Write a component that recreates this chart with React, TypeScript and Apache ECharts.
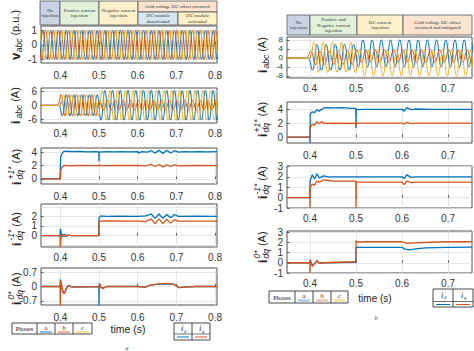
import React, { useEffect, useRef } from 'react';
import * as echarts from 'echarts';

const BLUE = '#0072BD';
const ORANGE = '#D95319';
const YELLOW = '#EDB120';

// ---------- axis ticks ----------
const xTicksA = [0.4, 0.5, 0.6, 0.7, 0.8];
const xTicksB = [0.4, 0.5, 0.6, 0.7];
const yTicksV = [-1, 0, 1];
const yTicksIabcA = [-6, 0, 6];
const yTicksPos = [0, 2, 4];
const yTicksNegA = [-1, 0, 1, 2, 3];
const yTicksZeroA = [-0.7, 0, 0.7];
const yTicksIabcB = [-8, -4, 0, 4, 8];
const yTicksNegB = [-1, 0, 1, 2, 3];
const yTicksZeroB = [-1, 0, 1, 2, 3];

// ---------- 50 Hz waveforms: successive peak / trough values (one every half period) ----------
const halfPeriod = 0.01;
const waveStart = 0.335;
const phaseShift = [0, 0.02 / 3, 0.04 / 3];

const vA = [1, -1, 1, -1, 1, -1, 1, -1, 1, -1, 1, -1, 1, -1, 1, -1, 1, -1, 1, -1, 1, -1, 1, -1, 1, -1, 1, -1, 1, -1, 1, -1, 1, -1, 1, -1, 1, -1, 1, -1, 1, -1, 1, -1, 1, -1, 1, -1, 1];
const vB = [1, -1, 1, -1, 1, -1, 1, -1, 1, -1, 1, -1, 1, -1, 1, -1, 1, -1, 1, -1, 1, -1, 1, -1, 1, -1, 1, -1, 1, -1, 1, -1, 1, -1, 1, -1, 1, -1, 1, -1, 1, -1, 1, -1, 1, -1, 1, -1, 1];
const vC = [1, -1, 1, -1, 1, -1, 1, -1, 1, -1, 1, -1, 1, -1, 1, -1, 1, -1, 1, -1, 1, -1, 1, -1, 1, -1, 1, -1, 1, -1, 1, -1, 1, -1, 1, -1, 1, -1, 1, -1, 1, -1, 1, -1, 1, -1, 1, -1, 1];

const iaL = [0, 0, 0, 0, 0, 0, 0, -4.5, 4.5, -4.5,
  4.5, -4.5, 4.5, -4.5, 4.5, -4.5, 4.5, -6.3, 6.3, -6.3,
  6.3, -6.3, 6.3, -6.3, 6.3, -6.3, 6.3, -6.3, 6.3, -6.3,
  6.3, -6.3, 6.3, -6.3, 6.3, -6.3, 6.3, -6.3, 6.3, -6.3,
  6.3, -6.3, 6.3, -6.3, 6.3, -6.3, 6.3, -6.3, 6.3];
const ibL = [0, 0, 0, 0, 0, 0, 4.5, -4.5, 4.5, -4.5,
  4.5, -4.5, 4.5, -4.5, 4.5, -4.5, 2, -2, 2, -2,
  2, -2, 2, -2, 2, -2, 2, -2, 2, -2,
  2, -2, 2, -2, 2, -2, 2, -2, 2, -2,
  2, -2, 2, -2, 2, -2, 2, -2, 2];
const icL = [0, 0, 0, 0, 0, 0, 4.5, -4.5, 4.5, -4.5,
  4.5, -4.5, 4.5, -4.5, 4.5, -4.5, 6.3, -6.3, 6.3, -6.3,
  6.3, -6.3, 6.3, -6.3, 6.3, -6.3, 6.3, -6.3, 6.3, -6.3,
  6.3, -6.3, 6.3, -6.3, 6.3, -6.3, 6.3, -6.3, 6.3, -6.3,
  6.3, -6.3, 6.3, -6.3, 6.3, -6.3, 6.3, -6.3, 6.3];

const iaR = [0, 0, 0, 0, 0, 0, 0, -5.5, 6, -5.5,
  6, -5.5, 6, -5.5, 6, -5.5, 6, -4, 8, -4,
  8, -4, 8, -4, 8, -4, 8, -4, 8, -4,
  8, -4, 8, -4, 8, -4, 8, -4, 8, -4,
  8, -4, 8];
const ibR = [0, 0, 0, 0, 0, 0, 3, -3, 3, -3,
  3, -3, 3, -3, 3, -3, 3.5, -2, 3.5, -2,
  3.5, -2, 3.5, -2, 3.5, -2, 3.5, -2, 3.5, -2,
  3.5, -2, 3.5, -2, 3.5, -2, 3.5, -2, 3.5, -2,
  3.5, -2, 3.5];
const icR = [0, 0, 0, 0, 0, 0, 7, -6.5, 7, -6.5,
  7, -6.5, 7, -6.5, 7, -6.5, 3.5, -8, 3.5, -8,
  3.5, -8, 3.5, -8, 3.5, -8, 3.5, -8, 3.5, -8,
  3.5, -8, 3.5, -8, 3.5, -8, 3.5, -8, 3.5, -8,
  3.5, -8, 3.5];

// ---------- dq components [time, value] ----------
const posDL = [[0.35, 0], [0.399, 0], [0.4, 0.05], [0.401, 3.3], [0.404, 3.7], [0.408, 4.05], [0.415, 4.12], [0.43, 4.05], [0.45, 4.08], [0.47, 4.02], [0.49, 4.06], [0.4995, 4.03], [0.5, 2.6], [0.5005, 4.0], [0.52, 4.05], [0.54, 4.02], [0.56, 4.06], [0.58, 4.03], [0.6, 4.05], [0.603, 3.85], [0.61, 4.05], [0.625, 4.0], [0.635, 4.2], [0.645, 3.85], [0.655, 4.25], [0.665, 3.8], [0.675, 4.25], [0.685, 3.85], [0.695, 4.2], [0.705, 4.0], [0.72, 4.05], [0.74, 4.02], [0.76, 4.06], [0.78, 4.03], [0.805, 4.05]];
const posQL = [[0.35, 0], [0.4, 0], [0.401, 1.2], [0.404, 1.75], [0.41, 2.02], [0.42, 1.95], [0.45, 2.0], [0.4995, 1.98], [0.5, 2.1], [0.505, 1.98], [0.55, 2.0], [0.6, 2.02], [0.62, 1.95], [0.635, 2.15], [0.645, 1.85], [0.655, 2.15], [0.665, 1.8], [0.675, 2.1], [0.685, 1.85], [0.695, 2.1], [0.705, 1.95], [0.75, 2.0], [0.805, 1.98]];
const negDL = [[0.35, 0], [0.399, 0], [0.4, 0.7], [0.402, 0.3], [0.405, -0.1], [0.41, 0.15], [0.415, -0.1], [0.42, 0.05], [0.43, 0], [0.4995, 0], [0.5, 1.85], [0.505, 2.05], [0.52, 2.0], [0.55, 2.03], [0.6, 2.0], [0.62, 2.05], [0.635, 2.25], [0.645, 1.8], [0.655, 2.25], [0.665, 1.8], [0.675, 2.2], [0.685, 1.85], [0.695, 2.2], [0.705, 2.0], [0.75, 2.02], [0.805, 2.0]];
const negQL = [[0.35, 0], [0.399, 0], [0.4, -1.2], [0.402, -0.3], [0.405, 0.15], [0.41, -0.1], [0.415, 0.05], [0.43, 0], [0.4995, 0], [0.5, 1.5], [0.52, 1.52], [0.6, 1.5], [0.62, 1.45], [0.635, 1.75], [0.645, 1.25], [0.655, 1.75], [0.665, 1.25], [0.675, 1.7], [0.685, 1.3], [0.695, 1.65], [0.705, 1.5], [0.805, 1.5]];
const zeroDL = [[0.35, 0], [0.399, 0], [0.4, 0.35], [0.402, 0.1], [0.406, -0.25], [0.41, -0.35], [0.415, -0.1], [0.42, 0.05], [0.43, -0.02], [0.4995, 0], [0.5, -0.95], [0.5005, 0.15], [0.505, -0.05], [0.51, -0.08], [0.52, 0], [0.6, 0], [0.62, -0.03], [0.63, 0.05], [0.65, 0.1], [0.67, 0.13], [0.69, 0.12], [0.7, 0.05], [0.705, -0.05], [0.72, -0.03], [0.75, 0], [0.805, 0]];
const zeroQL = [[0.35, 0], [0.399, 0], [0.4, -0.95], [0.401, 0.3], [0.403, 0.1], [0.406, -0.2], [0.41, -0.35], [0.415, -0.15], [0.42, 0.05], [0.43, -0.03], [0.5, 0], [0.502, 0.12], [0.505, -0.05], [0.51, -0.1], [0.52, 0], [0.6, 0], [0.62, -0.03], [0.63, 0.05], [0.65, 0.12], [0.67, 0.15], [0.69, 0.13], [0.7, 0.05], [0.705, -0.05], [0.72, -0.03], [0.75, 0], [0.805, 0]];

const posDR = [[0.35, 0], [0.3995, 0], [0.4, -0.85], [0.4005, 3.3], [0.405, 3.6], [0.41, 3.5], [0.415, 3.9], [0.42, 3.7], [0.43, 4.15], [0.44, 4.2], [0.45, 4.15], [0.47, 4.2], [0.49, 4.1], [0.4995, 4.1], [0.5, 1.3], [0.5005, 3.9], [0.52, 3.95], [0.55, 3.95], [0.58, 3.95], [0.6, 3.95], [0.605, 3.7], [0.61, 4.2], [0.62, 3.9], [0.63, 4.0], [0.66, 3.95], [0.7, 3.95], [0.752, 3.95]];
const posQR = [[0.35, 0], [0.3995, 0], [0.4, 1.4], [0.405, 1.8], [0.41, 1.7], [0.415, 2.2], [0.42, 1.9], [0.425, 2.2], [0.43, 1.95], [0.45, 2.0], [0.49, 1.95], [0.4995, 2.0], [0.5, 1.5], [0.5005, 2.0], [0.55, 2.0], [0.6, 2.0], [0.605, 1.85], [0.61, 2.1], [0.62, 1.9], [0.63, 2.0], [0.7, 2.0], [0.752, 2.0]];
const negDR = [[0.35, 0], [0.3995, 0], [0.4, 1.6], [0.405, 2.2], [0.41, 1.8], [0.415, 2.3], [0.42, 1.9], [0.43, 2.1], [0.44, 2.0], [0.5, 2.0], [0.55, 2.0], [0.6, 2.0], [0.605, 1.85], [0.61, 2.2], [0.62, 1.95], [0.63, 2.0], [0.752, 2.0]];
const negQR = [[0.35, 0], [0.3995, 0], [0.4, -1.0], [0.4005, 1.0], [0.405, 1.3], [0.41, 1.2], [0.415, 1.6], [0.42, 1.5], [0.43, 1.7], [0.45, 1.6], [0.49, 1.6], [0.4995, 1.6], [0.5, -1.0], [0.5005, 1.5], [0.55, 1.5], [0.6, 1.5], [0.605, 1.25], [0.61, 1.6], [0.62, 1.45], [0.63, 1.5], [0.752, 1.5]];
const zeroDR = [[0.35, 0], [0.3995, 0], [0.4, 0.3], [0.405, -0.3], [0.41, -0.1], [0.415, 0.2], [0.42, -0.05], [0.43, 0], [0.4995, 0.05], [0.5, 1.5], [0.52, 1.5], [0.6, 1.5], [0.605, 1.35], [0.615, 1.25], [0.63, 1.35], [0.65, 1.45], [0.7, 1.5], [0.752, 1.52]];
const zeroQR = [[0.35, 0], [0.3995, 0], [0.4, -1.0], [0.4005, 0.3], [0.405, -0.35], [0.41, -0.1], [0.415, 0.2], [0.42, -0.05], [0.43, 0], [0.4995, 0.1], [0.5, 2.15], [0.505, 2.0], [0.52, 2.05], [0.6, 2.05], [0.61, 1.9], [0.63, 1.95], [0.66, 2.0], [0.7, 2.05], [0.752, 2.05]];

// ---------- headers ----------
const headerA = [
  { x: 40, y: 1, w: 20, h: 24, fill: '#c9d3e3', text: 'No\ninjection', italic: false },
  { x: 60, y: 1, w: 39, h: 24, fill: '#e1f1da', text: 'Positive current\ninjection', italic: false },
  { x: 99, y: 1, w: 39, h: 24, fill: '#fcefc9', text: 'Negative current\ninjection', italic: false },
  { x: 138, y: 1, w: 79, h: 11, fill: '#fbe3d0', text: 'Grid voltage DC offset occurred', italic: false },
  { x: 138, y: 12, w: 40, h: 13, fill: '#d4e6f2', text: 'DC module\ndeactivated', italic: true },
  { x: 178, y: 12, w: 39, h: 13, fill: '#fdf2c5', text: 'DC module\nactivated', italic: true },
];
const headerB = [
  { x: 287, y: 15, w: 23, h: 20, fill: '#c9d3e3', text: 'No\ninjection', italic: false },
  { x: 310, y: 15, w: 47, h: 20, fill: '#e1f1da', text: 'Positive and\nNegative current\ninjection', italic: false },
  { x: 357, y: 15, w: 46, h: 20, fill: '#fcefc9', text: 'DC current\ninjection', italic: false },
  { x: 403, y: 15, w: 69, h: 20, fill: '#fbe3d0', text: 'Grid voltage DC offset\noccurred and mitigated', italic: false },
];

const SANS = 'Liberation Sans';
const SERIF = 'Liberation Serif';

function wave(vals: number[], shift: number) {
  return vals.map((v, k) => [waveStart + shift + k * halfPeriod, v]);
}

type S = { data: number[][]; color: string; smooth?: boolean };
type P = {
  left: number; top: number; width: number; height: number;
  xMax: number; xTicks: number[]; yMin: number; yMax: number; yTicks: number[];
  xm: number; yFont: number; series: S[];
};

const plots: P[] = [
  { left: 41, top: 26, width: 176, height: 37, xMax: 0.805, xTicks: xTicksA, yMin: -1.25, yMax: 1.3, yTicks: yTicksV, xm: 7, yFont: 10,
    series: [{ data: wave(vA, phaseShift[0]), color: BLUE, smooth: true }, { data: wave(vB, phaseShift[1]), color: ORANGE, smooth: true }, { data: wave(vC, phaseShift[2]), color: YELLOW, smooth: true }] },
  { left: 41, top: 88, width: 176, height: 35, xMax: 0.805, xTicks: xTicksA, yMin: -7.5, yMax: 7.3, yTicks: yTicksIabcA, xm: 5, yFont: 10,
    series: [{ data: wave(iaL, phaseShift[0]), color: BLUE, smooth: true }, { data: wave(ibL, phaseShift[1]), color: ORANGE, smooth: true }, { data: wave(icL, phaseShift[2]), color: YELLOW, smooth: true }] },
  { left: 41, top: 148, width: 176, height: 36, xMax: 0.805, xTicks: xTicksA, yMin: -0.75, yMax: 4.6, yTicks: yTicksPos, xm: 7, yFont: 10,
    series: [{ data: posDL, color: BLUE }, { data: posQL, color: ORANGE }] },
  { left: 41, top: 204, width: 176, height: 43, xMax: 0.805, xTicks: xTicksA, yMin: -1.2, yMax: 3.3, yTicks: yTicksNegA, xm: 5, yFont: 10,
    series: [{ data: negDL, color: BLUE }, { data: negQL, color: ORANGE }] },
  { left: 41, top: 268, width: 176, height: 37, xMax: 0.805, xTicks: xTicksA, yMin: -0.9, yMax: 0.9, yTicks: yTicksZeroA, xm: 7, yFont: 10,
    series: [{ data: zeroDL, color: BLUE }, { data: zeroQL, color: ORANGE }] },
  { left: 287, top: 37, width: 185, height: 41, xMax: 0.752, xTicks: xTicksB, yMin: -9, yMax: 9.3, yTicks: yTicksIabcB, xm: 5, yFont: 8,
    series: [{ data: wave(iaR, phaseShift[0]), color: BLUE, smooth: true }, { data: wave(ibR, phaseShift[1]), color: ORANGE, smooth: true }, { data: wave(icR, phaseShift[2]), color: YELLOW, smooth: true }] },
  { left: 287, top: 102, width: 185, height: 41, xMax: 0.752, xTicks: xTicksB, yMin: -0.85, yMax: 5, yTicks: yTicksPos, xm: 7, yFont: 10,
    series: [{ data: posDR, color: BLUE }, { data: posQR, color: ORANGE }] },
  { left: 287, top: 166, width: 185, height: 42, xMax: 0.752, xTicks: xTicksB, yMin: -1, yMax: 3.05, yTicks: yTicksNegB, xm: 5, yFont: 10,
    series: [{ data: negDR, color: BLUE }, { data: negQR, color: ORANGE }] },
  { left: 287, top: 231, width: 185, height: 42, xMax: 0.752, xTicks: xTicksB, yMin: -1, yMax: 3.1, yTicks: yTicksZeroB, xm: 5, yFont: 10,
    series: [{ data: zeroDR, color: BLUE }, { data: zeroQR, color: ORANGE }] },
];

let measureCtx: CanvasRenderingContext2D | null = null;
function textW(s: string, size: number, bold = false) {
  if (!measureCtx) measureCtx = document.createElement('canvas').getContext('2d');
  if (!measureCtx) return s.length * size * 0.55;
  measureCtx.font = `${bold ? 'bold ' : ''}${size}px ${SANS}`;
  return measureCtx.measureText(s).width;
}

function yLabel(cx: number, yb: number, main: string, sub: string, sup: string, paren: string, slot: number) {
  const mainSize = 13, scr = 8.5, pSize = 11;
  const wMain = Math.max(textW(main, mainSize, true), slot);
  const wScr = Math.max(sub ? textW(sub, scr) : 0, sup ? textW(sup, scr) : 0);
  const mainX = (wMain - textW(main, mainSize, true)) / 2;
  const children: any[] = [
    { type: 'text', x: mainX, y: 0, style: { text: main, fontSize: mainSize, fontWeight: 'bold', fontFamily: SANS, fill: '#222', align: 'left', verticalAlign: 'middle' } },
  ];
  if (sub) children.push({ type: 'text', x: wMain + 0.5, y: 3.8, style: { text: sub, fontSize: scr, fontStyle: 'italic', fontFamily: SANS, fill: '#222', align: 'left', verticalAlign: 'middle' } });
  if (sup) children.push({ type: 'text', x: wMain + 0.5, y: -5.5, style: { text: sup, fontSize: scr, fontStyle: 'italic', fontFamily: SANS, fill: '#222', align: 'left', verticalAlign: 'middle' } });
  children.push({ type: 'text', x: wMain + 0.5 + wScr + 3, y: 0, style: { text: paren, fontSize: pSize, fontFamily: SANS, fill: '#222', align: 'left', verticalAlign: 'middle' } });
  return { type: 'group', x: cx, y: yb, rotation: Math.PI / 2, children };
}

function headerCells(cells: typeof headerA, fs: number) {
  const out: any[] = [];
  cells.forEach((c) => {
    out.push({ type: 'rect', shape: { x: c.x, y: c.y, width: c.w, height: c.h }, style: { fill: c.fill, stroke: '#555', lineWidth: 0.8 } });
    out.push({ type: 'text', x: c.x + c.w / 2, y: c.y + c.h / 2, style: { text: c.text, fontSize: fs, lineHeight: fs + 0.8, fontFamily: SERIF, fontStyle: c.italic ? 'italic' : 'normal', fill: '#333', align: 'center', verticalAlign: 'middle' } });
  });
  return out;
}

function phaseLegend(x0: number, y0: number, edges: number[], h: number, lineY: number, colors: string[], lw: number, opacity: number) {
  const out: any[] = [];
  out.push({ type: 'rect', shape: { x: x0, y: y0, width: edges[3] - x0, height: h }, style: { fill: '#fff', stroke: '#333', lineWidth: 0.9 } });
  out.push({ type: 'text', x: (x0 + edges[0]) / 2, y: y0 + h / 2, style: { text: 'Phases', fontSize: 6.5, fontFamily: SERIF, fill: '#222', align: 'center', verticalAlign: 'middle' } });
  const labels = ['a', 'b', 'c'];
  for (let i = 0; i < 3; i++) {
    const a = edges[i], b = edges[i + 1];
    out.push({ type: 'line', shape: { x1: a, y1: y0, x2: a, y2: y0 + h }, style: { stroke: '#333', lineWidth: 0.9 } });
    out.push({ type: 'text', x: (a + b) / 2, y: y0 + 1, style: { text: labels[i], fontSize: 6.5, fontFamily: SERIF, fill: '#222', align: 'center', verticalAlign: 'top' } });
    out.push({ type: 'line', shape: { x1: a + 3, y1: lineY, x2: b - 3, y2: lineY }, style: { stroke: colors[i], lineWidth: lw, opacity } });
  }
  return out;
}

function dqLegend(x0: number, y0: number, w: number, h: number, divY: number, lineY: number) {
  const out: any[] = [];
  const mid = x0 + w / 2;
  out.push({ type: 'rect', shape: { x: x0, y: y0, width: w, height: h }, style: { fill: '#fff', stroke: '#333', lineWidth: 0.9 } });
  out.push({ type: 'line', shape: { x1: mid, y1: y0, x2: mid, y2: y0 + h }, style: { stroke: '#333', lineWidth: 0.9 } });
  out.push({ type: 'line', shape: { x1: x0, y1: divY, x2: x0 + w, y2: divY }, style: { stroke: '#333', lineWidth: 0.7 } });
  [['d', BLUE, x0], ['q', ORANGE, mid]].forEach(([s, col, xs]: any) => {
    out.push({ type: 'text', x: xs + w / 4 + 0.3, y: (y0 + divY) / 2 - 0.5, style: { text: 'i', fontSize: 8.5, fontStyle: 'italic', fontFamily: SERIF, fill: '#222', align: 'right', verticalAlign: 'middle' } });
    out.push({ type: 'text', x: xs + w / 4 + 0.8, y: (y0 + divY) / 2 + 2.5, style: { text: s, fontSize: 5, fontStyle: 'italic', fontFamily: SERIF, fill: '#222', align: 'left', verticalAlign: 'middle' } });
    out.push({ type: 'line', shape: { x1: xs + 3, y1: lineY, x2: xs + w / 2 - 3, y2: lineY }, style: { stroke: col, lineWidth: 1 } });
  });
  return out;
}

export default function App() {
  const ref = useRef<HTMLDivElement>(null);
  useEffect(() => {
    if (!ref.current) return;
    const chart = echarts.init(ref.current, undefined, { renderer: 'svg' });
    const grid = plots.map((p) => ({ left: p.left, top: p.top, width: p.width, height: p.height, show: true, borderColor: '#3a3a3a', borderWidth: 0.9, backgroundColor: '#fff', containLabel: false }));
    const xAxis = plots.map((p, i) => ({
      type: 'value', gridIndex: i, min: 0.35, max: p.xMax,
      axisLine: { show: false },
      axisTick: { show: true, inside: true, length: 2.5, customValues: p.xTicks, lineStyle: { color: '#333', width: 0.8 } },
      axisLabel: { customValues: p.xTicks, fontSize: 10, color: '#333', margin: p.xm, fontFamily: SANS, formatter: (v: number) => v.toFixed(1) },
      splitLine: { show: true, lineStyle: { color: '#dedede', width: 0.8 } },
    }));
    const yAxis = plots.map((p, i) => ({
      type: 'value', gridIndex: i, min: p.yMin, max: p.yMax,
      axisLine: { show: false },
      axisTick: { show: true, inside: true, length: 2.5, customValues: p.yTicks, lineStyle: { color: '#333', width: 0.8 } },
      axisLabel: { customValues: p.yTicks, fontSize: p.yFont, color: '#333', margin: 4, fontFamily: SANS, formatter: (v: number) => String(v) },
      splitLine: { show: true, lineStyle: { color: '#dedede', width: 0.8 } },
    }));
    const series: any[] = [];
    plots.forEach((p, i) => {
      p.series.forEach((s) => {
        series.push({
          type: 'line', xAxisIndex: i, yAxisIndex: i, data: s.data, showSymbol: false, symbol: 'none',
          smooth: s.smooth ? 0.45 : false, silent: true,
          lineStyle: { color: s.color, width: s.smooth ? 1 : 1.3 },
        });
      });
    });

    const graphic: any[] = [
      ...headerCells(headerA, 5),
      ...headerCells(headerB, 5),
      yLabel(15, 60, 'v', 'abc', '', '(p.u.)', 0),
      yLabel(15, 126, 'i', 'abc', '', '(A)', 7),
      yLabel(16, 187, 'i', 'dq', '+1*', '(A)', 7),
      yLabel(16, 248, 'i', 'dq', '-1*', '(A)', 7),
      yLabel(16, 307, 'i', 'dq', '0*', '(A)', 7),
      yLabel(262, 74, 'i', 'abc', '', '(A)', 5),
      yLabel(262, 138, 'i', 'dq', '+1*', '(A)', 5),
      yLabel(262, 200, 'i', 'dq', '-1*', '(A)', 5),
      yLabel(262, 264, 'i', 'dq', '0*', '(A)', 5),
      { type: 'text', x: 128, y: 329, style: { text: 'time (s)', fontSize: 10.5, fontFamily: SANS, fill: '#222', align: 'center', verticalAlign: 'middle' } },
      { type: 'text', x: 375, y: 298, style: { text: 'time (s)', fontSize: 10, fontFamily: SANS, fill: '#222', align: 'center', verticalAlign: 'middle' } },
      ...phaseLegend(12, 323, [37, 55, 73, 92], 11, 332, [BLUE, ORANGE, YELLOW], 0.9, 1),
      ...phaseLegend(269, 291, [295, 313, 331, 348], 12, 300.5, ['#7fb3de', '#e6a48c', '#f0d064'], 2, 0.8),
      ...dqLegend(174, 323, 36, 17, 334, 337),
      ...dqLegend(433, 289, 40, 18, 301.5, 304.5),
      { type: 'text', x: 127, y: 348, style: { text: 'a', fontSize: 6, fontStyle: 'italic', fontFamily: SERIF, fill: '#444', align: 'center', verticalAlign: 'middle' } },
      { type: 'text', x: 376, y: 318, style: { text: 'b', fontSize: 6, fontStyle: 'italic', fontFamily: SERIF, fill: '#444', align: 'center', verticalAlign: 'middle' } },
    ];

    chart.setOption({
      animation: false,
      backgroundColor: '#ffffff',
      textStyle: { fontFamily: SANS },
      grid, xAxis, yAxis, series, graphic,
    });
    return () => chart.dispose();
  }, []);
  return <div ref={ref} style={{ position: 'fixed', left: 0, top: 0, width: 474, height: 351, background: '#fff' }} />;
}
